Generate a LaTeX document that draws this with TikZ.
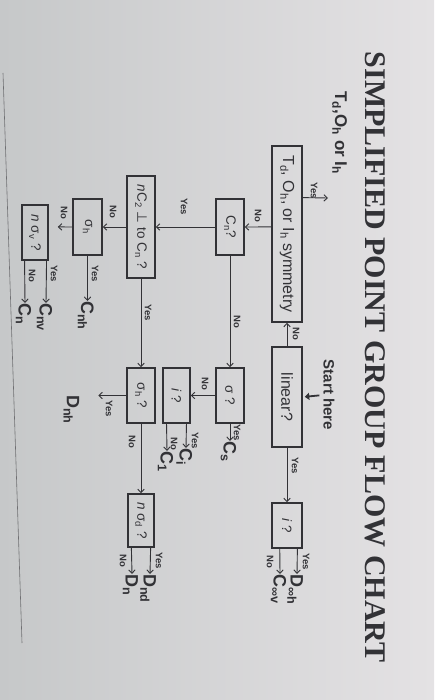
\documentclass[tikz,border=0pt]{standalone}
\usepackage{fontspec}
\setmainfont{Liberation Sans}
\newfontfamily\ttlfont{Liberation Serif}
\newfontfamily\symfont{DejaVu Sans}
\usetikzlibrary{arrows.meta,calc}
\definecolor{ink}{RGB}{50,50,54}
\definecolor{bgL}{RGB}{198,200,201}
\definecolor{bgR}{RGB}{228,226,228}
\begin{document}
\begin{tikzpicture}[x=1pt,y=1pt,
  box/.style={draw=ink, line width=1.5pt, inner sep=0pt, text=ink, font=\fontsize{13.5}{13.5}\selectfont},
  bigbox/.style={box, font=\fontsize{16}{16}\selectfont},
  arr/.style={draw=ink, line width=0.9pt, -{Straight Barb[length=3.5pt,width=6.5pt]}},
  lab/.style={text=ink, inner sep=0pt, font=\bfseries\fontsize{9.5}{9.5}\selectfont},
  res/.style={text=ink, inner sep=0pt, anchor=west, text height=13pt, text depth=0pt, font=\bfseries\fontsize{18}{18}\selectfont},
]
\shade[left color=bgL, right color=bgR] (0,0) rectangle (434,-700);
\useasboundingbox (0,0) rectangle (434,-700);
\begin{scope}[rotate=-90, transform shape]
% page edge
\draw[ink!70, line width=0.6pt] (73,3) -- (643,22);
% title
\node[text=ink, inner sep=0pt, font=\ttlfont\bfseries\fontsize{30}{30}\selectfont] (title) at (357,375) {SIMPLIFIED POINT GROUP FLOW CHART};
\node[text=ink, inner sep=0pt, text height=12pt, text depth=0pt, font=\bfseries\fontsize{17}{17}\selectfont] (top) at (133,341) {T\textsubscript{d},O\textsubscript{h} or I\textsubscript{h}};
\node[text=ink, inner sep=0pt, text height=11pt, text depth=0pt, font=\bfseries\fontsize{15}{15}\selectfont] (start) at (395,329) {Start here};
% boxes
\node[bigbox, minimum width=176pt, minimum height=30pt] (sym) at (234,287) {T\textsubscript{d}, O\textsubscript{h}, or I\textsubscript{h} symmetry};
\node[bigbox, minimum width=100pt, minimum height=30pt] (lin) at (397,287) {linear?};
\node[box, minimum width=45pt, minimum height=30pt] (i1) at (525.5,287) {\textit{i} ?};
\node[box, minimum width=56pt, minimum height=28pt] (cn) at (227,230) {C\textsubscript{n}?};
\node[box, minimum width=55pt, minimum height=28pt] (sig) at (395.5,230) {σ ?};
\node[box, minimum width=55pt, minimum height=27pt] (i2) at (395.5,176.5) {\textit{i} ?};
\node[box, minimum width=102pt, minimum height=28pt] (nc2) at (227,141) {\textit{n}C\textsubscript{2} {\symfont ⊥} to C\textsubscript{n} ?};
\node[box, minimum width=55pt, minimum height=28pt] (sh2) at (395.5,141) {σ\textsubscript{h} ?};
\node[box, minimum width=53pt, minimum height=26pt] (nsd) at (520.5,141) {\textit{n} σ\textsubscript{d} ?};
\node[box, minimum width=56pt, minimum height=29pt] (sh1) at (227,87.5) {σ\textsubscript{h}};
\node[box, minimum width=55pt, minimum height=26pt] (nsv) at (232.5,35) {\textit{n} σ\textsubscript{v} ?};
% results
\node[res] (Dinfh) at (574,297) {D\textsubscript{∞h}};
\node[res] (Cinfv) at (574,280) {C\textsubscript{∞v}};
\node[res] (Cs) at (441,230) {C\textsubscript{s}};
\node[res] (Ci) at (448,186) {C\textsubscript{i}};
\node[res] (C1) at (451,167) {C\textsubscript{1}};
\node[res, anchor=north west] (Dnh) at (395,80) {D\textsubscript{nh}};
\node[res] (Dnd) at (574,150) {D\textsubscript{nd}};
\node[res] (Dn) at (574,132) {D\textsubscript{n}};
\node[res] (Cnh) at (301,87.5) {C\textsubscript{nh}};
\node[res] (Cnv) at (303,46) {C\textsubscript{nv}};
\node[res] (Cn) at (303,25) {C\textsubscript{n}};
\coordinate (topend) at (198,328);
% connectors
\draw[ink, line width=1.8pt, -{Triangle[length=4.5pt,width=7pt]}, shorten <=4pt, shorten >=2pt] (start.south) -- (lin.north);
\draw[arr] ($(sym.north west)!0.295!(sym.north east)$) -- (topend);
\draw[arr] (lin.west) -- (sym.east);
\draw[arr] (lin.east) -- (i1.west);
\draw[arr] ($(i1.south east)!0.83!(i1.north east)$) -- (Dinfh.west);
\draw[arr] ($(i1.south east)!0.27!(i1.north east)$) -- (Cinfv.west);
\draw[arr] ($(sym.south west)!0.46!(sym.south east)$) -- (cn.north);
\draw[arr] (cn.east) -- (sig.west);
\draw[arr] (sig.east) -- (Cs.west);
\draw[arr] (sig.south) -- (i2.north);
\draw[arr] ($(i2.south east)!0.85!(i2.north east)$) -- (Ci.west);
\draw[arr] ($(i2.south east)!0.15!(i2.north east)$) -- (C1.west);
\draw[arr] (cn.south) -- (nc2.north);
\draw[arr] (nc2.east) -- (sh2.west);
\draw[arr] (sh2.south) -- ++(0,-28);
\draw[arr] (sh2.east) -- (nsd.west);
\draw[arr] ($(nsd.south east)!0.85!(nsd.north east)$) -- (Dnd.west);
\draw[arr] ($(nsd.south east)!0.15!(nsd.north east)$) -- (Dn.west);
\draw[arr] (nc2.south) -- (sh1.north);
\draw[arr] (sh1.east) -- (Cnh.west);
\draw[arr, shorten >=9pt] (sh1.south) -- ($(nsv.north west)!0.4!(nsv.north east)$);
\draw[arr] ($(nsv.south east)!0.92!(nsv.north east)$) -- (Cnv.west);
\draw[arr] ($(nsv.south east)!0.12!(nsv.north east)$) -- (Cn.west);
% labels
\node[lab] (l1) at (191,314) {Yes};
\node[lab] (l2) at (216,258) {No};
\node[lab] (l3) at (334,296) {No};
\node[lab] (l4) at (466,295) {Yes};
\node[lab] (l5) at (562,306) {Yes};
\node[lab] (l6) at (562,270) {No};
\node[lab] (l7) at (322,237) {No};
\node[lab] (l8) at (433,237) {Yes};
\node[lab] (l9) at (384,205) {No};
\node[lab] (l10) at (441,195) {Yes};
\node[lab] (l11) at (444,174) {No};
\node[lab] (l12) at (207,184) {Yes};
\node[lab] (l13) at (313,148) {Yes};
\node[lab] (l14) at (409,109) {Yes};
\node[lab] (l15) at (442,132) {No};
\node[lab] (l16) at (561,159) {Yes};
\node[lab] (l17) at (561,123) {No};
\node[lab] (l18) at (212,113) {No};
\node[lab] (l19) at (274,95) {Yes};
\node[lab] (l20) at (213,64) {No};
\node[lab] (l21) at (274,54) {Yes};
\node[lab] (l22) at (276,32) {No};
\end{scope}
\end{tikzpicture}
\end{document}
